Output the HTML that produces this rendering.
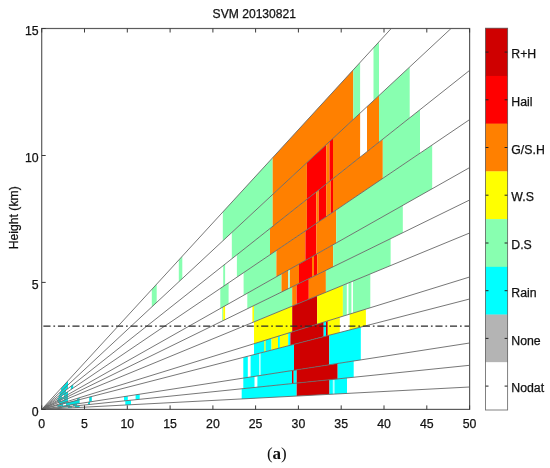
<!DOCTYPE html><html><head><meta charset="utf-8"><title>SVM 20130821</title>
<style>html,body{margin:0;padding:0;background:#fff}svg{display:block}text{font-family:"Liberation Sans",Arial,sans-serif;font-size:12.3px;fill:#111;stroke:#111;stroke-width:0.25px}.s{font-family:"Liberation Serif",serif;font-size:17px;stroke:none}</style></head><body>
<svg width="550" height="468" viewBox="0 0 550 468">
<rect width="550" height="468" fill="#fff"/>
<defs><clipPath id="c"><rect x="41.7" y="28.5" width="427.90000000000003" height="380.9"/></clipPath></defs>
<g clip-path="url(#c)">
<polygon fill="#00ffff" points="241.7,398.9 296.7,396.1 296.7,383.1 241.7,388.8"/>
<polygon fill="#cf0000" points="296.7,396.1 329.5,394.3 329.5,379.7 296.7,383.1"/>
<polygon fill="#00ffff" points="329.5,394.3 332.9,394.2 332.9,379.4 329.5,379.7"/>
<polygon fill="#b0ffff" points="332.9,394.2 334.5,394.1 334.5,379.2 332.9,379.4"/>
<polygon fill="#00ffff" points="334.5,394.1 347.0,393.4 347.0,377.9 334.5,379.2"/>
<polygon fill="#00ffff" points="125.3,405.0 131.0,404.7 131.0,400.2 125.3,400.8"/>
<polygon fill="#00e0e0" points="57.5,408.6 62.0,408.3 62.0,407.3 57.5,407.8"/>
<polygon fill="#00e0e0" points="68.0,408.0 72.0,407.8 72.0,406.3 68.0,406.7"/>
<polygon fill="#00e0e0" points="75.0,407.7 79.6,407.4 79.6,405.5 75.0,406.0"/>
<polygon fill="#00ffff" points="243.3,388.6 254.5,387.5 254.5,376.4 243.3,378.1"/>
<polygon fill="#00ffff" points="257.4,387.2 292.0,383.6 292.0,370.6 257.4,375.9"/>
<polygon fill="#cf0000" points="292.0,383.6 293.7,383.4 293.7,370.3 292.0,370.6"/>
<polygon fill="#00ffff" points="293.7,383.4 296.7,383.1 296.7,369.8 293.7,370.3"/>
<polygon fill="#cf0000" points="296.7,383.1 337.7,378.9 337.7,363.5 296.7,369.8"/>
<polygon fill="#00ffff" points="337.7,378.9 353.7,377.2 353.7,361.0 337.7,363.5"/>
<polygon fill="#00ffff" points="124.0,400.9 127.8,400.5 127.8,396.0 124.0,396.6"/>
<polygon fill="#00ffff" points="135.6,399.7 139.7,399.3 139.7,394.2 135.6,394.8"/>
<polygon fill="#00e0e0" points="62.0,407.3 70.0,406.5 70.0,405.0 62.0,406.2"/>
<polygon fill="#00e0e0" points="73.0,406.2 77.0,405.8 77.0,403.9 73.0,404.5"/>
<polygon fill="#00e0e0" points="88.0,404.6 90.0,404.4 90.0,401.9 88.0,402.2"/>
<polygon fill="#00ffff" points="243.3,378.1 247.8,377.4 247.8,356.2 243.3,357.4"/>
<polygon fill="#00ffff" points="250.6,377.0 259.0,375.7 259.0,353.3 250.6,355.5"/>
<polygon fill="#b0ffff" points="259.0,375.7 260.6,375.4 260.6,352.9 259.0,353.3"/>
<polygon fill="#00ffff" points="260.6,375.4 294.0,370.2 294.0,344.3 260.6,352.9"/>
<polygon fill="#cf0000" points="294.0,370.2 329.3,364.8 329.3,335.2 294.0,344.3"/>
<polygon fill="#00ffff" points="329.3,364.8 360.8,359.9 360.8,327.1 329.3,335.2"/>
<polygon fill="#00e0e0" points="57.5,406.9 63.0,406.1 63.0,403.9 57.5,405.3"/>
<polygon fill="#00e0e0" points="66.0,405.6 79.6,403.5 79.6,399.6 66.0,403.1"/>
<polygon fill="#00e0e0" points="89.2,402.0 91.8,401.6 91.8,396.5 89.2,397.1"/>
<polygon fill="#00ffff" points="254.0,354.6 264.2,352.0 264.2,340.6 254.0,343.7"/>
<polygon fill="#c0ff30" points="264.2,352.0 265.8,351.6 265.8,340.1 264.2,340.6"/>
<polygon fill="#00ffff" points="265.8,351.6 271.5,350.1 271.5,338.3 265.8,340.1"/>
<polygon fill="#ffff00" points="271.5,350.1 278.0,348.4 278.0,336.3 271.5,338.3"/>
<polygon fill="#00ffff" points="278.0,348.4 279.9,347.9 279.9,335.7 278.0,336.3"/>
<polygon fill="#ffff00" points="279.9,347.9 288.2,345.8 288.2,333.1 279.9,335.7"/>
<polygon fill="#00ffff" points="288.2,345.8 290.4,345.2 290.4,332.4 288.2,333.1"/>
<polygon fill="#cf0000" points="290.4,345.2 323.7,336.6 323.7,322.1 290.4,332.4"/>
<polygon fill="#00ffff" points="323.7,336.6 326.0,336.0 326.0,321.4 323.7,322.1"/>
<polygon fill="#cf0000" points="326.0,336.0 327.8,335.6 327.8,320.9 326.0,321.4"/>
<polygon fill="#ffff00" points="327.8,335.6 339.8,332.5 339.8,317.2 327.8,320.9"/>
<polygon fill="#ffff00" points="349.7,329.9 365.9,325.8 365.9,309.1 349.7,314.1"/>
<polygon fill="#00e0e0" points="60.0,404.7 68.0,402.6 68.0,401.3 60.0,403.7"/>
<polygon fill="#00e0e0" points="77.0,400.3 79.6,399.6 79.6,397.7 77.0,398.5"/>
<polygon fill="#ffff00" points="254.0,343.7 292.2,331.9 292.2,306.1 254.0,321.9"/>
<polygon fill="#cf0000" points="292.2,331.9 317.2,324.2 317.2,295.8 292.2,306.1"/>
<polygon fill="#ffff00" points="317.2,324.2 342.9,316.2 342.9,285.2 317.2,295.8"/>
<polygon fill="#88ffb0" points="342.9,316.2 346.8,315.0 346.8,283.6 342.9,285.2"/>
<polygon fill="#88ffb0" points="348.5,314.5 351.4,313.6 351.4,281.7 348.5,282.9"/>
<polygon fill="#88ffb0" points="353.0,313.1 370.3,307.7 370.3,273.9 353.0,281.1"/>
<polygon fill="#00e0e0" points="59.0,404.0 68.0,401.3 68.0,398.6 59.0,402.3"/>
<polygon fill="#ffff00" points="252.4,322.5 254.0,321.9 254.0,305.5 252.4,306.3"/>
<polygon fill="#88ffb0" points="254.0,321.9 292.2,306.1 292.2,286.8 254.0,305.5"/>
<polygon fill="#ff8000" points="292.2,306.1 296.6,304.3 296.6,284.7 292.2,286.8"/>
<polygon fill="#ff0000" points="296.6,304.3 308.8,299.3 308.8,278.7 296.6,284.7"/>
<polygon fill="#ff8000" points="308.8,299.3 325.9,292.2 325.9,270.3 308.8,278.7"/>
<polygon fill="#88ffb0" points="325.9,292.2 390.6,265.6 390.6,238.7 325.9,270.3"/>
<polygon fill="#00e0e0" points="58.0,402.7 61.0,401.4 61.0,400.0 58.0,401.4"/>
<polygon fill="#00e0e0" points="64.0,400.2 68.0,398.6 68.0,396.5 64.0,398.5"/>
<polygon fill="#88ffb0" points="222.2,321.1 223.2,320.6 223.2,306.8 222.2,307.4"/>
<polygon fill="#ffff00" points="223.2,320.6 225.1,319.7 225.1,305.8 223.2,306.8"/>
<polygon fill="#88ffb0" points="247.3,308.8 281.5,292.0 281.5,273.9 247.3,293.2"/>
<polygon fill="#ff8000" points="281.5,292.0 288.0,288.9 288.0,270.2 281.5,273.9"/>
<polygon fill="#b8f5d0" points="288.0,288.9 290.0,287.9 290.0,269.1 288.0,270.2"/>
<polygon fill="#ff8000" points="290.0,287.9 299.0,283.5 299.0,264.0 290.0,269.1"/>
<polygon fill="#ff0000" points="299.0,283.5 312.0,277.1 312.0,256.7 299.0,264.0"/>
<polygon fill="#ff8000" points="312.0,277.1 314.0,276.1 314.0,255.5 312.0,256.7"/>
<polygon fill="#ff0000" points="314.0,276.1 317.2,274.6 317.2,253.7 314.0,255.5"/>
<polygon fill="#ff8000" points="317.2,274.6 333.2,266.7 333.2,244.7 317.2,253.7"/>
<polygon fill="#88ffb0" points="333.2,266.7 402.8,232.7 402.8,205.3 333.2,244.7"/>
<polygon fill="#00e0e0" points="57.5,401.7 68.0,396.5 68.0,394.5 57.5,400.5"/>
<polygon fill="#88ffb0" points="220.3,308.5 228.6,303.8 228.6,282.8 220.3,288.4"/>
<polygon fill="#88ffb0" points="243.6,295.3 276.4,276.8 276.4,250.4 243.6,272.7"/>
<polygon fill="#ff8000" points="276.4,276.8 305.4,260.4 305.4,230.8 276.4,250.4"/>
<polygon fill="#ff0000" points="305.4,260.4 316.3,254.2 316.3,223.4 305.4,230.8"/>
<polygon fill="#ff8000" points="316.3,254.2 336.2,243.0 336.2,209.9 316.3,223.4"/>
<polygon fill="#88ffb0" points="336.2,243.0 432.2,188.7 432.2,144.9 336.2,209.9"/>
<polygon fill="#00e0e0" points="57.5,400.5 62.0,397.9 62.0,395.7 57.5,398.7"/>
<polygon fill="#00e0e0" points="64.0,396.8 68.0,394.5 68.0,391.6 64.0,394.3"/>
<polygon fill="#88ffb0" points="223.2,286.5 225.1,285.2 225.1,264.1 223.2,265.6"/>
<polygon fill="#88ffb0" points="236.9,277.2 270.0,254.8 270.0,228.5 236.9,254.8"/>
<polygon fill="#ff8000" points="270.0,254.8 306.9,229.8 306.9,199.3 270.0,228.5"/>
<polygon fill="#ff0000" points="306.9,229.8 316.3,223.4 316.3,191.9 306.9,199.3"/>
<polygon fill="#ff8000" points="316.3,223.4 318.8,221.7 318.8,189.9 316.3,191.9"/>
<polygon fill="#ff0000" points="318.8,221.7 326.2,216.7 326.2,184.0 318.8,189.9"/>
<polygon fill="#ff8000" points="326.2,216.7 330.8,213.6 330.8,180.4 326.2,184.0"/>
<polygon fill="#ff0000" points="330.8,213.6 333.0,212.1 333.0,178.6 330.8,180.4"/>
<polygon fill="#ff8000" points="333.0,212.1 382.8,178.4 382.8,139.2 333.0,178.6"/>
<polygon fill="#88ffb0" points="382.8,178.4 420.0,153.2 420.0,109.7 382.8,139.2"/>
<polygon fill="#00e0e0" points="58.5,398.0 66.0,392.9 66.0,390.1 58.5,396.1"/>
<polygon fill="#00e0e0" points="70.8,389.7 73.2,388.1 73.2,384.4 70.8,386.3"/>
<polygon fill="#88ffb0" points="231.8,258.8 272.7,226.4 272.7,194.4 231.8,232.5"/>
<polygon fill="#ff8000" points="272.7,226.4 306.9,199.3 306.9,162.6 272.7,194.4"/>
<polygon fill="#ff0000" points="306.9,199.3 326.2,184.0 326.2,144.6 306.9,162.6"/>
<polygon fill="#ff8000" points="326.2,184.0 329.5,181.4 329.5,141.6 326.2,144.6"/>
<polygon fill="#ff0000" points="329.5,181.4 333.0,178.6 333.0,138.3 329.5,141.6"/>
<polygon fill="#ff8000" points="333.0,178.6 360.1,157.2 360.1,113.1 333.0,138.3"/>
<polygon fill="#ff8000" points="367.0,151.7 379.0,142.2 379.0,95.5 367.0,106.7"/>
<polygon fill="#88ffb0" points="379.0,142.2 409.7,117.9 409.7,66.9 379.0,95.5"/>
<polygon fill="#00e0e0" points="59.5,395.3 68.0,388.6 68.0,384.9 59.5,392.8"/>
<polygon fill="#88ffb0" points="151.8,306.9 156.7,302.4 156.7,284.1 151.8,289.4"/>
<polygon fill="#88ffb0" points="178.8,281.8 182.3,278.6 182.3,256.2 178.8,260.0"/>
<polygon fill="#88ffb0" points="222.8,240.9 272.7,194.4 272.7,157.7 222.8,212.0"/>
<polygon fill="#ff8000" points="272.7,194.4 353.3,119.4 353.3,69.8 272.7,157.7"/>
<polygon fill="#88ffb0" points="353.3,119.4 360.1,113.1 360.1,62.4 353.3,69.8"/>
<polygon fill="#88ffb0" points="373.5,100.6 379.0,95.5 379.0,41.8 373.5,47.8"/>
<polygon fill="#00e0e0" points="61.0,391.4 68.0,384.9 68.0,380.7 61.0,388.4"/>
<line x1="41.7" y1="409.4" x2="469.6" y2="387" stroke="#686868" stroke-width="0.9"/>
<line x1="41.7" y1="409.4" x2="469.6" y2="365.3" stroke="#686868" stroke-width="0.9"/>
<line x1="41.7" y1="409.4" x2="469.6" y2="343" stroke="#686868" stroke-width="0.9"/>
<line x1="41.7" y1="409.4" x2="469.6" y2="299" stroke="#686868" stroke-width="0.9"/>
<line x1="41.7" y1="409.4" x2="469.6" y2="277" stroke="#686868" stroke-width="0.9"/>
<line x1="41.7" y1="409.4" x2="469.6" y2="233" stroke="#686868" stroke-width="0.9"/>
<line x1="41.7" y1="409.4" x2="469.6" y2="200" stroke="#686868" stroke-width="0.9"/>
<line x1="41.7" y1="409.4" x2="469.6" y2="167.6" stroke="#686868" stroke-width="0.9"/>
<line x1="41.7" y1="409.4" x2="469.6" y2="119.6" stroke="#686868" stroke-width="0.9"/>
<line x1="41.7" y1="409.4" x2="469.6" y2="70.4" stroke="#686868" stroke-width="0.9"/>
<line x1="41.7" y1="409.4" x2="469.6" y2="11.2" stroke="#686868" stroke-width="0.9"/>
<line x1="41.7" y1="409.4" x2="469.6" y2="-56.9" stroke="#686868" stroke-width="0.9"/>
<line x1="41.7" y1="326.1" x2="469.6" y2="326.1" stroke="#2a2a2a" stroke-width="1.4" stroke-dasharray="7.1,2.9,1.7,2.82" stroke-dashoffset="-1.7"/>
</g>
<rect x="41.7" y="28.5" width="427.90000000000003" height="380.9" fill="none" stroke="#5c5c5c" stroke-width="1.2"/>
<line x1="41.7" y1="409.4" x2="41.7" y2="405.4" stroke="#3a3a3a" stroke-width="1"/>
<line x1="41.7" y1="28.5" x2="41.7" y2="32.5" stroke="#3a3a3a" stroke-width="1"/>
<text x="41.7" y="428.3" text-anchor="middle">0</text>
<line x1="84.5" y1="409.4" x2="84.5" y2="405.4" stroke="#3a3a3a" stroke-width="1"/>
<line x1="84.5" y1="28.5" x2="84.5" y2="32.5" stroke="#3a3a3a" stroke-width="1"/>
<text x="84.5" y="428.3" text-anchor="middle">5</text>
<line x1="127.3" y1="409.4" x2="127.3" y2="405.4" stroke="#3a3a3a" stroke-width="1"/>
<line x1="127.3" y1="28.5" x2="127.3" y2="32.5" stroke="#3a3a3a" stroke-width="1"/>
<text x="127.3" y="428.3" text-anchor="middle">10</text>
<line x1="170.1" y1="409.4" x2="170.1" y2="405.4" stroke="#3a3a3a" stroke-width="1"/>
<line x1="170.1" y1="28.5" x2="170.1" y2="32.5" stroke="#3a3a3a" stroke-width="1"/>
<text x="170.1" y="428.3" text-anchor="middle">15</text>
<line x1="212.9" y1="409.4" x2="212.9" y2="405.4" stroke="#3a3a3a" stroke-width="1"/>
<line x1="212.9" y1="28.5" x2="212.9" y2="32.5" stroke="#3a3a3a" stroke-width="1"/>
<text x="212.9" y="428.3" text-anchor="middle">20</text>
<line x1="255.6" y1="409.4" x2="255.6" y2="405.4" stroke="#3a3a3a" stroke-width="1"/>
<line x1="255.6" y1="28.5" x2="255.6" y2="32.5" stroke="#3a3a3a" stroke-width="1"/>
<text x="255.6" y="428.3" text-anchor="middle">25</text>
<line x1="298.4" y1="409.4" x2="298.4" y2="405.4" stroke="#3a3a3a" stroke-width="1"/>
<line x1="298.4" y1="28.5" x2="298.4" y2="32.5" stroke="#3a3a3a" stroke-width="1"/>
<text x="298.4" y="428.3" text-anchor="middle">30</text>
<line x1="341.2" y1="409.4" x2="341.2" y2="405.4" stroke="#3a3a3a" stroke-width="1"/>
<line x1="341.2" y1="28.5" x2="341.2" y2="32.5" stroke="#3a3a3a" stroke-width="1"/>
<text x="341.2" y="428.3" text-anchor="middle">35</text>
<line x1="384.0" y1="409.4" x2="384.0" y2="405.4" stroke="#3a3a3a" stroke-width="1"/>
<line x1="384.0" y1="28.5" x2="384.0" y2="32.5" stroke="#3a3a3a" stroke-width="1"/>
<text x="384.0" y="428.3" text-anchor="middle">40</text>
<line x1="426.8" y1="409.4" x2="426.8" y2="405.4" stroke="#3a3a3a" stroke-width="1"/>
<line x1="426.8" y1="28.5" x2="426.8" y2="32.5" stroke="#3a3a3a" stroke-width="1"/>
<text x="426.8" y="428.3" text-anchor="middle">45</text>
<line x1="469.6" y1="409.4" x2="469.6" y2="405.4" stroke="#3a3a3a" stroke-width="1"/>
<line x1="469.6" y1="28.5" x2="469.6" y2="32.5" stroke="#3a3a3a" stroke-width="1"/>
<text x="469.6" y="428.3" text-anchor="middle">50</text>
<line x1="41.7" y1="409.4" x2="45.7" y2="409.4" stroke="#3a3a3a" stroke-width="1"/>
<text x="38.7" y="416.0" text-anchor="end">0</text>
<line x1="41.7" y1="282.4" x2="45.7" y2="282.4" stroke="#3a3a3a" stroke-width="1"/>
<text x="38.7" y="289.0" text-anchor="end">5</text>
<line x1="41.7" y1="155.5" x2="45.7" y2="155.5" stroke="#3a3a3a" stroke-width="1"/>
<text x="38.7" y="162.1" text-anchor="end">10</text>
<line x1="41.7" y1="28.5" x2="45.7" y2="28.5" stroke="#3a3a3a" stroke-width="1"/>
<text x="38.7" y="35.1" text-anchor="end">15</text>
<text x="254.3" y="18" text-anchor="middle" style="font-size:12.1px">SVM 20130821</text>
<text transform="translate(17.6,217.8) rotate(-90)" text-anchor="middle" style="font-size:12.2px">Height (km)</text>
<text class="s" x="276.8" y="458.8" text-anchor="middle">(<tspan font-weight="bold">a</tspan>)</text>
<rect x="485.5" y="28.20" width="22.1" height="48.02" fill="#cf0000"/>
<rect x="485.5" y="75.92" width="22.1" height="48.02" fill="#ff0000"/>
<rect x="485.5" y="123.65" width="22.1" height="48.02" fill="#ff8000"/>
<rect x="485.5" y="171.38" width="22.1" height="48.02" fill="#ffff00"/>
<rect x="485.5" y="219.10" width="22.1" height="48.02" fill="#88ffb0"/>
<rect x="485.5" y="266.82" width="22.1" height="48.02" fill="#00ffff"/>
<rect x="485.5" y="314.55" width="22.1" height="48.02" fill="#b4b4b4"/>
<rect x="485.5" y="362.27" width="22.1" height="48.02" fill="#ffffff"/>
<line x1="485.5" y1="52.1" x2="488.5" y2="52.1" stroke="#222" stroke-width="1"/>
<line x1="507.6" y1="52.1" x2="504.6" y2="52.1" stroke="#222" stroke-width="1"/>
<text x="511.3" y="58.3">R+H</text>
<line x1="485.5" y1="99.8" x2="488.5" y2="99.8" stroke="#222" stroke-width="1"/>
<line x1="507.6" y1="99.8" x2="504.6" y2="99.8" stroke="#222" stroke-width="1"/>
<text x="511.3" y="106.0">Hail</text>
<line x1="485.5" y1="147.5" x2="488.5" y2="147.5" stroke="#222" stroke-width="1"/>
<line x1="507.6" y1="147.5" x2="504.6" y2="147.5" stroke="#222" stroke-width="1"/>
<text x="511.3" y="153.7">G/S.H</text>
<line x1="485.5" y1="195.2" x2="488.5" y2="195.2" stroke="#222" stroke-width="1"/>
<line x1="507.6" y1="195.2" x2="504.6" y2="195.2" stroke="#222" stroke-width="1"/>
<text x="511.3" y="201.4">W.S</text>
<line x1="485.5" y1="243.0" x2="488.5" y2="243.0" stroke="#222" stroke-width="1"/>
<line x1="507.6" y1="243.0" x2="504.6" y2="243.0" stroke="#222" stroke-width="1"/>
<text x="511.3" y="249.2">D.S</text>
<line x1="485.5" y1="290.7" x2="488.5" y2="290.7" stroke="#222" stroke-width="1"/>
<line x1="507.6" y1="290.7" x2="504.6" y2="290.7" stroke="#222" stroke-width="1"/>
<text x="511.3" y="296.9">Rain</text>
<line x1="485.5" y1="338.4" x2="488.5" y2="338.4" stroke="#222" stroke-width="1"/>
<line x1="507.6" y1="338.4" x2="504.6" y2="338.4" stroke="#222" stroke-width="1"/>
<text x="511.3" y="344.6">None</text>
<line x1="485.5" y1="386.1" x2="488.5" y2="386.1" stroke="#222" stroke-width="1"/>
<line x1="507.6" y1="386.1" x2="504.6" y2="386.1" stroke="#222" stroke-width="1"/>
<text x="511.3" y="392.3">Nodat</text>
<rect x="485.5" y="28.2" width="22.1" height="381.8" fill="none" stroke="#444" stroke-opacity="0.75" stroke-width="0.9"/>
</svg></body></html>
